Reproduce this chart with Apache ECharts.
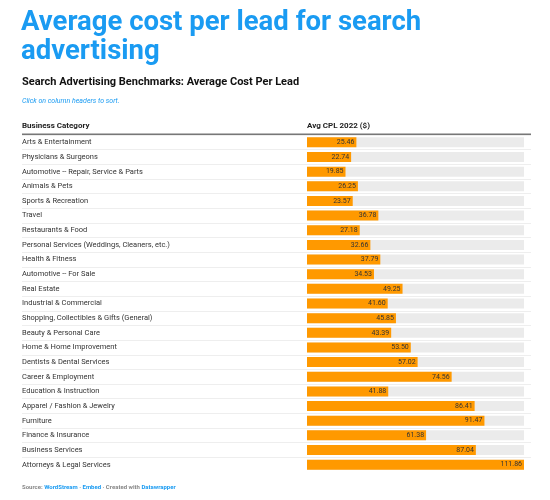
<!DOCTYPE html>
<html>
<head>
<meta charset="utf-8">
<script src="https://cdn.jsdelivr.net/npm/echarts@6/dist/echarts.min.js"></script>
<style>
html,body{margin:0;padding:0;background:#fff;}
#chart{width:550px;height:500px;}
</style>
</head>
<body>
<div id="chart"></div>
<script>
var categories = [
  "Arts & Entertainment",
  "Physicians & Surgeons",
  "Automotive -- Repair, Service & Parts",
  "Animals & Pets",
  "Sports & Recreation",
  "Travel",
  "Restaurants & Food",
  "Personal Services (Weddings, Cleaners, etc.)",
  "Health & Fitness",
  "Automotive -- For Sale",
  "Real Estate",
  "Industrial & Commercial",
  "Shopping, Collectibles & Gifts (General)",
  "Beauty & Personal Care",
  "Home & Home Improvement",
  "Dentists & Dental Services",
  "Career & Employment",
  "Education & Instruction",
  "Apparel / Fashion & Jewelry",
  "Furniture",
  "Finance & Insurance",
  "Business Services",
  "Attorneys & Legal Services"
];
var cpl2022 = [25.46, 22.74, 19.85, 26.25, 23.57, 36.78, 27.18, 32.66, 37.79, 34.53, 49.25, 41.60, 45.85, 43.39, 53.50, 57.02, 74.56, 41.88, 86.41, 91.47, 61.38, 87.04, 111.86];
var valueMax = 111.86;

var chart = echarts.init(document.getElementById('chart'), null, {renderer: 'canvas'});
var font = 'Roboto, "Liberation Sans", sans-serif';
var gridTop = 135, gridBottom = 28;

chart.setOption({
  animation: false,
  backgroundColor: '#fff',
  title: [
    {
      text: 'Average cost per lead for search\nadvertising',
      left: 21, top: 9, padding: 0,
      textStyle: {color: '#1a9bf2', fontSize: 27.5, fontWeight: 'bold', fontFamily: 'Roboto, sans-serif', lineHeight: 29}
    },
    {
      text: 'Search Advertising Benchmarks: Average Cost Per Lead',
      left: 22, top: 77, padding: 0,
      textStyle: {color: '#111', fontSize: 11, fontWeight: 'bold', fontFamily: font}
    },
    {
      text: 'Click on column headers to sort.',
      left: 22, top: 98, padding: 0,
      textStyle: {color: '#1a9bf2', fontSize: 7, fontStyle: 'italic', fontWeight: 'normal', fontFamily: font}
    },
    {
      text: 'Business Category',
      left: 22, top: 122, padding: 0,
      textStyle: {color: '#222', fontSize: 8, fontWeight: 'bold', fontFamily: font}
    },
    {
      text: 'Avg CPL 2022 ($)',
      left: 307, top: 122, padding: 0,
      textStyle: {color: '#222', fontSize: 8, fontWeight: 'bold', fontFamily: font}
    },
    {
      text: '{g|Source: }{b|WordStream}{g| · }{b|Embed}{g| · Created with }{b|Datawrapper}',
      left: 22, top: 484, padding: 0,
      textStyle: {
        fontSize: 6, fontFamily: font,
        rich: {
          g: {color: '#888', fontSize: 6, fontFamily: font},
          b: {color: '#1a9bf2', fontSize: 6, fontFamily: font}
        }
      }
    }
  ],
  graphic: [
    {type: 'rect', shape: {x: 22, y: 133.5, width: 509, height: 1.5}, style: {fill: '#777'}, z: 10}
  ],
  grid: [
    {left: 307, right: 26, top: gridTop, bottom: gridBottom, containLabel: false},
    {left: 22, right: 19, top: gridTop, bottom: gridBottom, containLabel: false}
  ],
  xAxis: [
    {type: 'value', gridIndex: 0, min: 0, max: valueMax, show: false},
    {type: 'value', gridIndex: 1, min: 0, max: 1, show: false}
  ],
  yAxis: [
    {
      type: 'category', gridIndex: 0, data: categories, inverse: true,
      axisLine: {show: false}, axisTick: {show: false}, splitLine: {show: false},
      axisLabel: {interval: 0, align: 'left', margin: 285, color: '#333', fontSize: 7.5, fontFamily: font}
    },
    {
      type: 'category', gridIndex: 1, data: categories, inverse: true,
      axisLine: {show: false}, axisTick: {show: false, interval: 0},
      axisLabel: {show: false, interval: 0},
      splitLine: {show: true, interval: 0, showMaxLine: false, lineStyle: {color: '#eeeeee', width: 1}}
    }
  ],
  series: [
    {
      type: 'bar', xAxisIndex: 0, yAxisIndex: 0, data: cpl2022,
      barWidth: 10,
      itemStyle: {color: '#ff9900'},
      showBackground: true,
      backgroundStyle: {color: '#ebebeb'},
      label: {
        show: true, position: 'insideRight', distance: 2,
        color: '#333', fontSize: 7, fontFamily: font,
        formatter: function (p) { return p.value.toFixed(2); }
      }
    }
  ]
});
</script>
</body>
</html>
